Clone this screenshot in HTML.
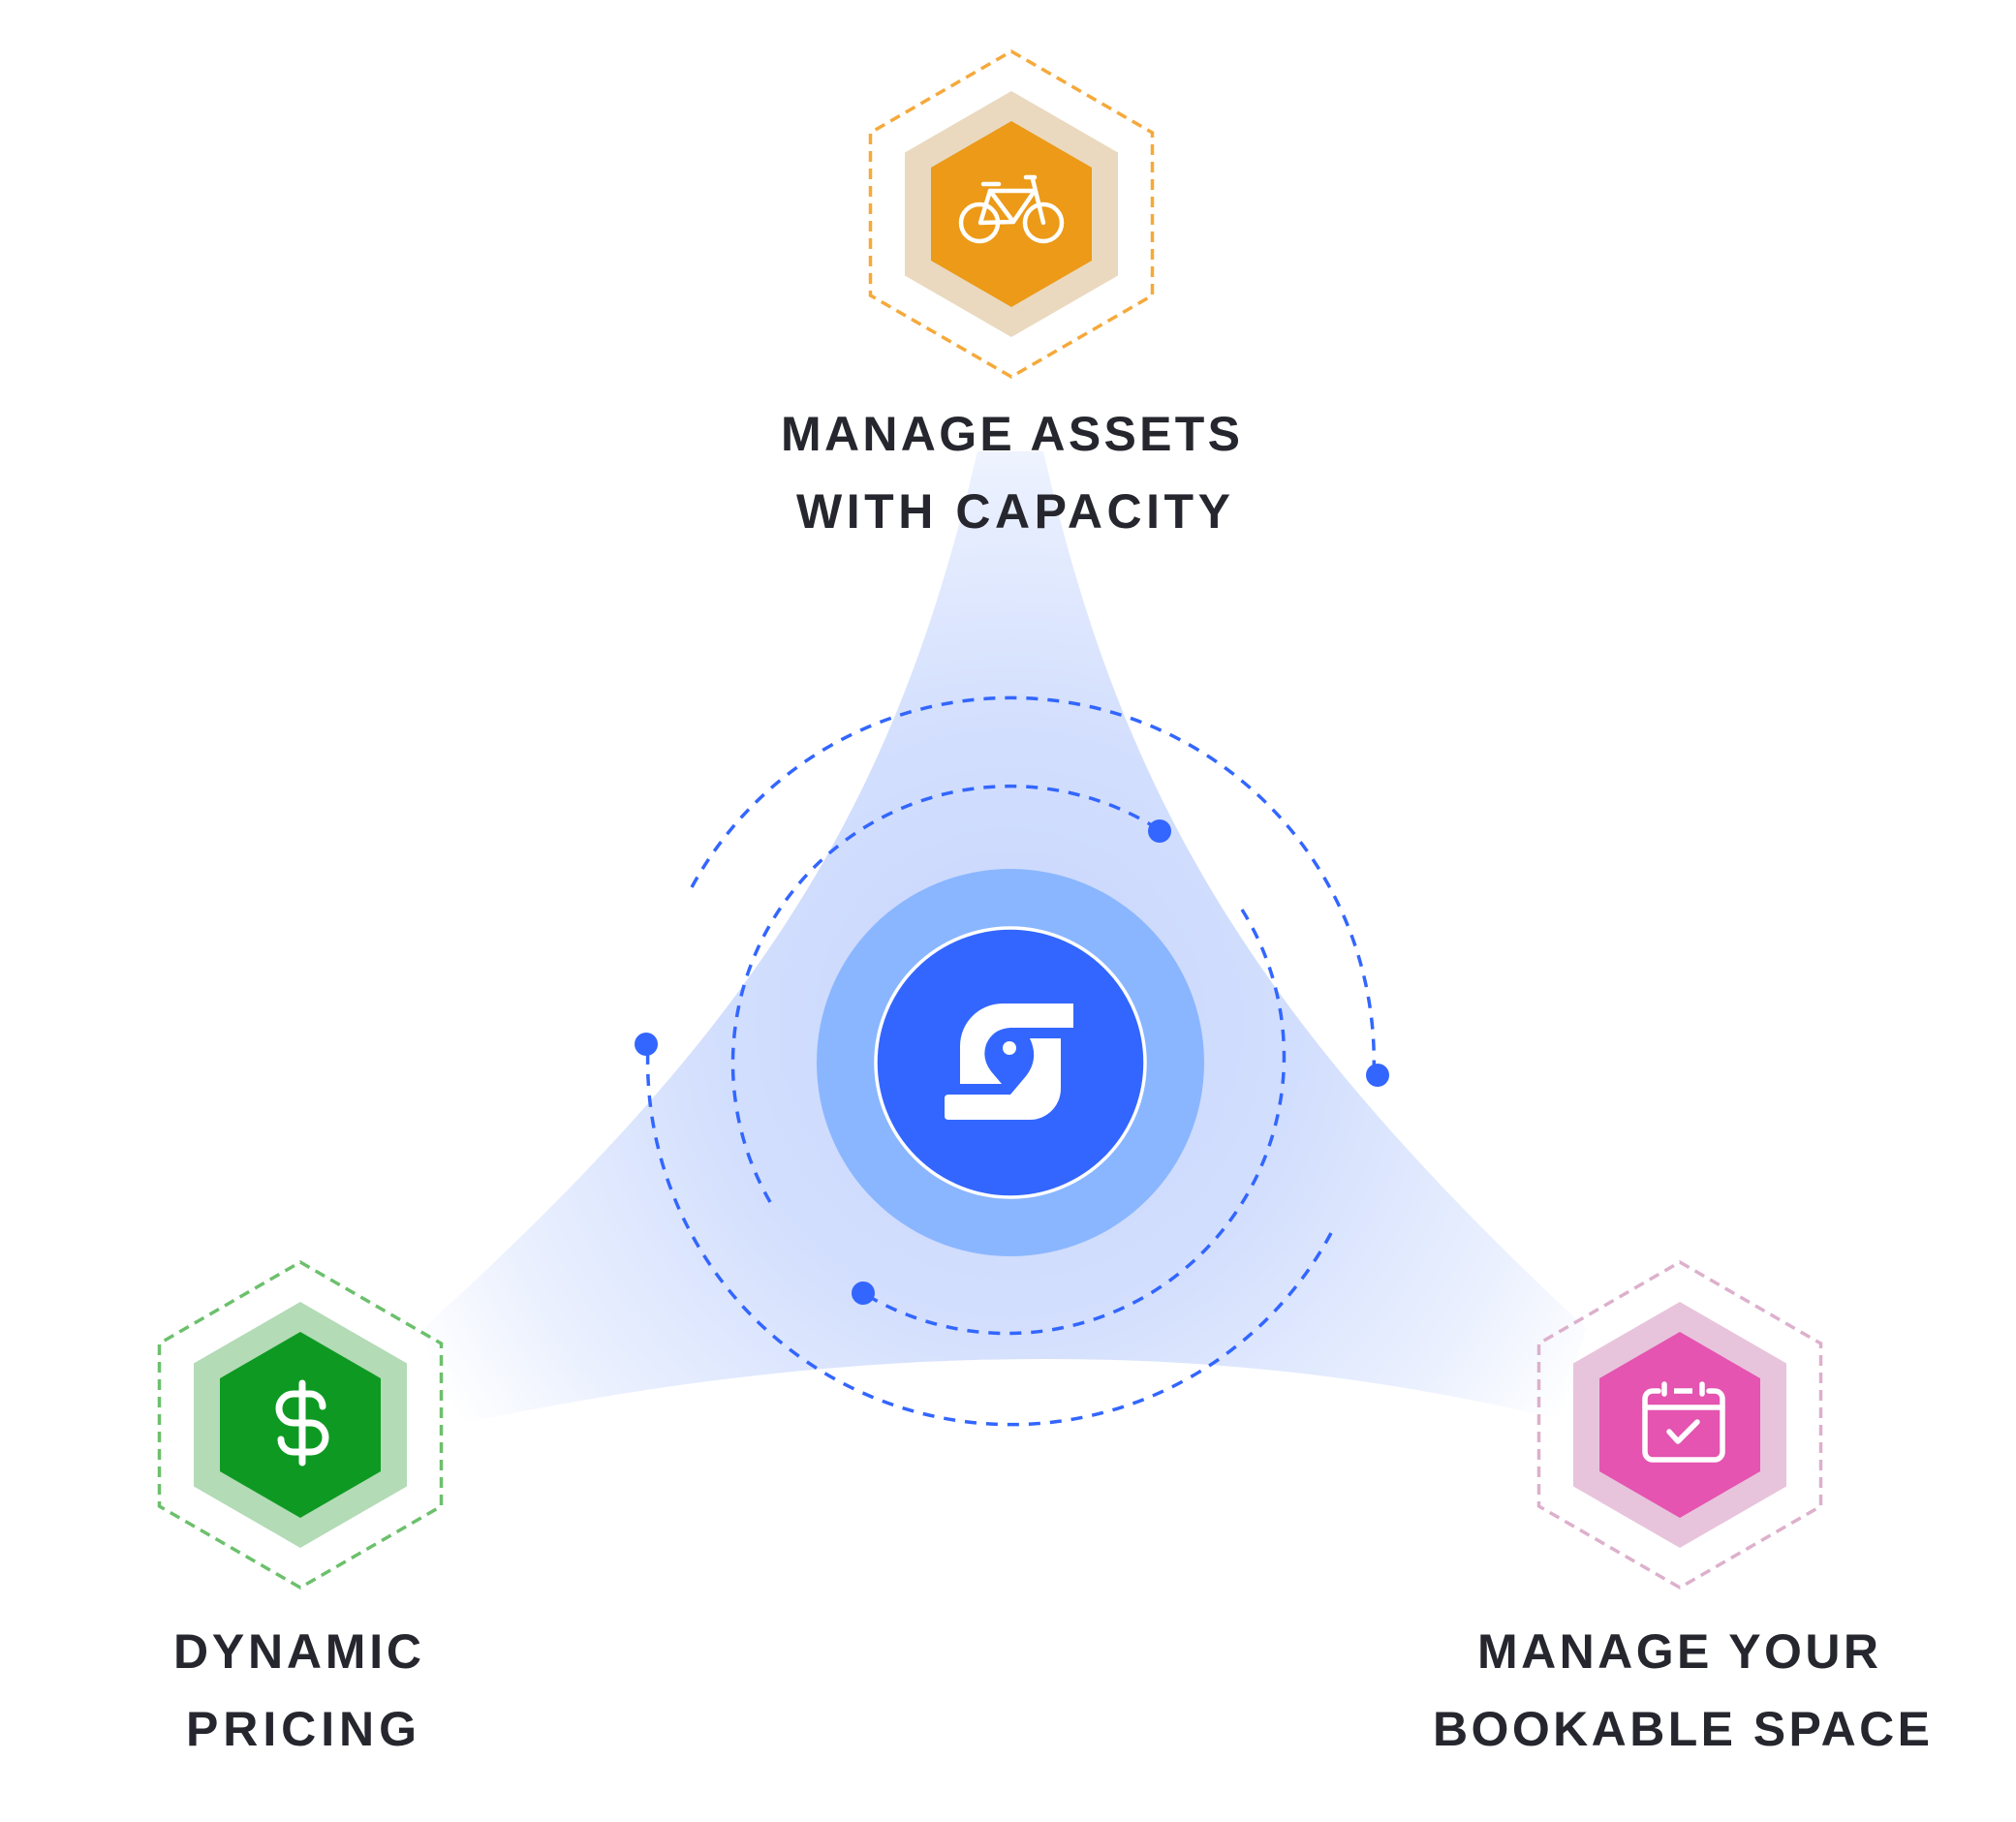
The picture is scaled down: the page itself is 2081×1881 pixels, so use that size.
<!DOCTYPE html>
<html><head><meta charset="utf-8"><style>
html,body{margin:0;padding:0;background:#fff;}
svg{display:block}
</style></head><body>
<svg width="2081" height="1881" viewBox="0 0 2081 1881" xmlns="http://www.w3.org/2000/svg">
<defs>
<radialGradient id="g" gradientUnits="userSpaceOnUse" cx="1046" cy="1060" r="700">
<stop offset="0" stop-color="#c6d5fd"/>
<stop offset="0.45" stop-color="#d3dffd"/>
<stop offset="0.8" stop-color="#eaf0fe"/>
<stop offset="1" stop-color="#ffffff"/>
</radialGradient>
</defs>
<g transform="translate(-3,-4)">
<path d="M1012,470 C930,820 800,1050 440,1375 L460,1478 Q1090,1340 1614,1470 L1640,1375 C1290,1050 1160,820 1080,470 Z" fill="url(#g)"/>

<g fill="none" stroke="#3366ff" stroke-width="3.5" stroke-dasharray="12 10">
<path d="M717,920 A375,375 0 0 1 1421,1114"/>
<path d="M1377,1277 A375,375 0 0 1 672,1082"/>
<path d="M798,1245 A286,286 0 0 1 1200,861"/>
<path d="M1285,943 A286,286 0 0 1 894,1339"/>
</g>
<g fill="#3366ff">
<circle cx="1200" cy="862" r="12"/>
<circle cx="670" cy="1082" r="12"/>
<circle cx="1425" cy="1114" r="12"/>
<circle cx="894" cy="1339" r="12"/>
</g>

<circle cx="1046" cy="1101" r="200" fill="#8ab6ff"/>
<circle cx="1046" cy="1101" r="139" fill="#3366ff" stroke="#fff" stroke-width="3.5"/>
<g fill="#fff">
<path d="M1111,1040 V1065 H1046 Q1028,1066 1021,1082 Q1016,1097 1026,1110 L1037,1123 H994 V1084 A44,44 0 0 1 1038,1040 Z"/>
<path d="M1098,1076 V1128 A32,32 0 0 1 1066,1160 H982 Q978,1160 978,1156 V1138 Q978,1134 982,1134 H1046 L1062,1115 Q1076,1097 1066,1076 Z"/>
<circle cx="1045" cy="1086" r="7"/>
</g>
</g>

<!-- top hex -->
<g transform="translate(1044,221)">
<polygon points="0,-168 145.5,-84 145.5,84 0,168 -145.5,84 -145.5,-84" fill="none" stroke="#f5a93a" stroke-width="3.5" stroke-dasharray="11 7"/>
<polygon points="0,-127 110,-63.5 110,63.5 0,127 -110,63.5 -110,-63.5" fill="#ead9bf"/>
<polygon points="0,-96 83,-48 83,48 0,96 -83,48 -83,-48" fill="#ec9a17"/>
</g>
<g fill="none" stroke="#fff" stroke-width="4.5" stroke-linecap="round" stroke-linejoin="round">
<circle cx="1011" cy="230" r="19"/>
<circle cx="1077" cy="230" r="19"/>
<path d="M1012,230 L1022,197 L1046,229 Z"/>
<path d="M1022,197 H1068 L1046,229"/>
<path d="M1066,185 L1077,230"/>
<path d="M1015,190 H1031"/>
<path d="M1059,183 H1068"/>
</g>

<!-- green hex -->
<g transform="translate(310,1471)">
<polygon points="0,-168 145.5,-84 145.5,84 0,168 -145.5,84 -145.5,-84" fill="none" stroke="#6cc06c" stroke-width="3.5" stroke-dasharray="11 7"/>
<polygon points="0,-127 110,-63.5 110,63.5 0,127 -110,63.5 -110,-63.5" fill="#b3dbb6"/>
<polygon points="0,-96 83,-48 83,48 0,96 -83,48 -83,-48" fill="#0e9a22"/>
</g>
<g fill="none" stroke="#fff" stroke-width="7" stroke-linecap="round">
<path d="M312,1428 V1510"/>
<path d="M333,1452 A13,13 0 0 0 320,1439 H303 A15,15 0 0 0 303,1469 H321 A15,15 0 0 1 321,1499 H303 A13,13 0 0 1 290,1486"/>
</g>

<!-- pink hex -->
<g transform="translate(1734,1471)">
<polygon points="0,-168 145.5,-84 145.5,84 0,168 -145.5,84 -145.5,-84" fill="none" stroke="#ddb0cc" stroke-width="3.5" stroke-dasharray="11 7"/>
<polygon points="0,-127 110,-63.5 110,63.5 0,127 -110,63.5 -110,-63.5" fill="#e8c4dc"/>
<polygon points="0,-96 83,-48 83,48 0,96 -83,48 -83,-48" fill="#e454b0"/>
</g>
<g fill="none" stroke="#fff" stroke-width="5.5" stroke-linecap="round" stroke-linejoin="round">
<path d="M1712,1436 H1706 A8,8 0 0 0 1698,1444 V1499 A8,8 0 0 0 1706,1507 H1770 A8,8 0 0 0 1778,1499 V1444 A8,8 0 0 0 1770,1436 H1764"/>
<path d="M1728,1436 H1747" stroke-linecap="butt"/>
<path d="M1718,1429 V1439 M1757,1429 V1439"/>
<path d="M1698,1453 H1778"/>
<path d="M1723,1478 L1732,1488 L1752,1468"/>
</g>

<g font-family="Liberation Sans, sans-serif" font-weight="bold" font-size="50" fill="#26262e">
<text x="806" y="465" textLength="474" lengthAdjust="spacing">MANAGE ASSETS</text>
<text x="822" y="545" textLength="448" lengthAdjust="spacing">WITH CAPACITY</text>
<text x="179" y="1722" textLength="256" lengthAdjust="spacing">DYNAMIC</text>
<text x="192" y="1802" textLength="238" lengthAdjust="spacing">PRICING</text>
<text x="1525" y="1722" textLength="414" lengthAdjust="spacing">MANAGE YOUR</text>
<text x="1479" y="1802" textLength="513" lengthAdjust="spacing">BOOKABLE SPACE</text>
</g>
</svg>
</body></html>
